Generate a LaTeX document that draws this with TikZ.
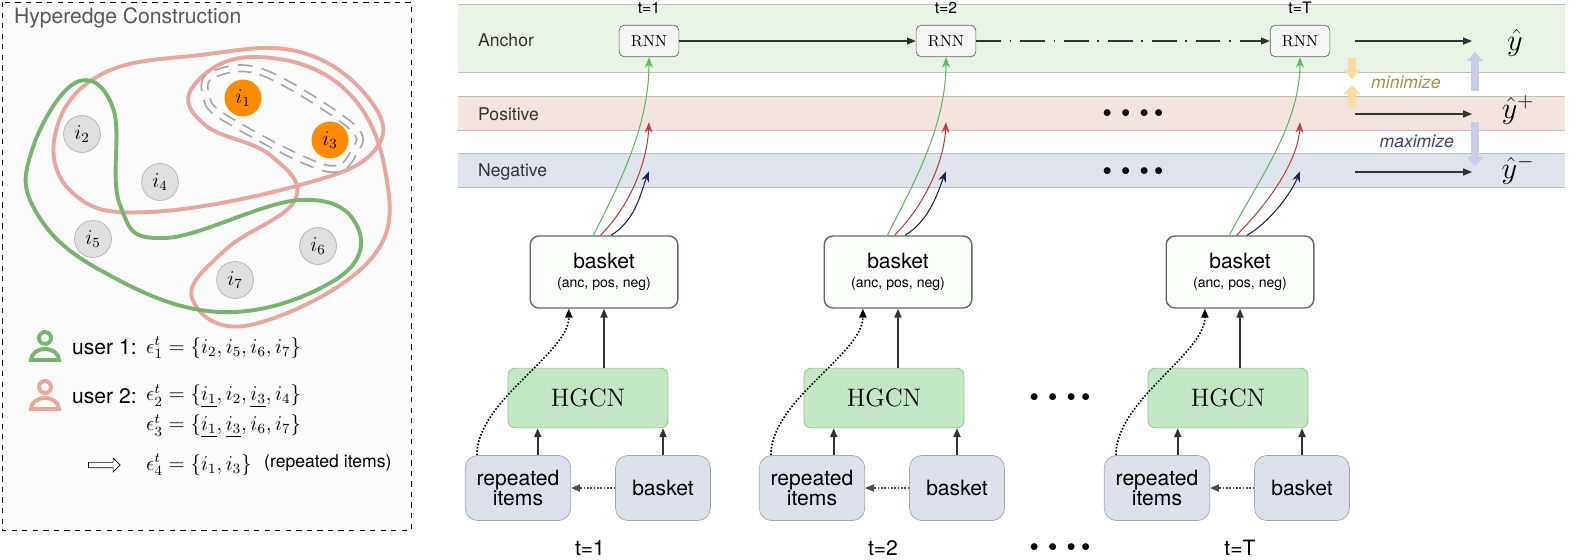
\documentclass[tikz,border=0pt]{standalone}
\usepackage{fontspec}
\setsansfont{TeX Gyre Heros}
\usetikzlibrary{arrows.meta,shapes.arrows}
\definecolor{gband}{HTML}{EAF4E6}
\definecolor{pband}{HTML}{F3E4DF}
\definecolor{bband}{HTML}{DEE3EC}
\definecolor{hgreen}{HTML}{C3E6C7}
\definecolor{hgreenb}{HTML}{8CC48F}
\definecolor{gedge}{HTML}{78B46E}
\definecolor{redge}{HTML}{E8A79D}
\definecolor{itemb}{HTML}{DCE0EA}
\definecolor{lav}{HTML}{C8CCE6}
\definecolor{yel}{HTML}{F8DCA0}
\tikzset{
 item/.style={circle,draw=gray!60,fill=gray!25,minimum size=21pt,inner sep=0pt,font=\large},
 oitem/.style={circle,fill=orange!90!yellow,minimum size=21pt,inner sep=0pt,font=\large},
 rnn/.style={draw=gray!80!black,fill=gray!8,rounded corners=3pt,minimum width=34pt,minimum height=18pt,font=\small},
 bask/.style={draw=gray!80!black,fill=green!2,rounded corners=5pt,minimum width=84pt,minimum height=41pt,align=center,font=\sffamily\large,line width=0.8pt},
 hgcn/.style={draw=hgreenb,fill=hgreen,rounded corners=4pt,minimum width=91pt,minimum height=34pt,font=\Large},
 inp/.style={draw=gray!70,fill=itemb,rounded corners=7pt,minimum height=37pt,align=center,font=\sffamily\large},
 arr/.style={-{Triangle[length=5pt,width=4pt]},gray!40!black,line width=0.9pt},
 lbl/.style={font=\sffamily,text=gray!40!black},
 fat/.style={-{Triangle[length=5pt,width=9pt]},line width=4.5pt},
}
\begin{document}
\begin{tikzpicture}[x=0.02cm,y=-0.02cm]
\useasboundingbox (0,0) rectangle (1578,559);
% left panel
\draw[dashed,fill=gray!3] (2,2) rectangle (411,530);
\node[anchor=west,font=\sffamily\large,text=gray!70!black] (title) at (8,18) {Hyperedge Construction};
\draw[redge,line width=2.2pt] plot[smooth cycle,tension=0.7] coordinates{(55,135)(100,75)(200,55)(300,52)(370,100)(375,150)(300,185)(150,212)(75,195)};
\draw[redge,line width=2.2pt] plot[smooth cycle,tension=0.7] coordinates{(192,88)(250,57)(340,85)(385,170)(370,260)(250,325)(192,298)(225,250)(295,200)(270,155)(205,125)};
\draw[gedge,line width=2.2pt] plot[smooth cycle,tension=0.7] coordinates{(32,150)(75,83)(113,108)(120,205)(165,238)(300,200)(358,228)(335,280)(220,312)(100,270)(35,210)};
\draw[gray!70,line width=1pt,double=white,double distance=2.6pt,dash pattern=on 8pt off 5pt] plot[smooth cycle,tension=0.6] coordinates{(212,75)(262,72)(350,125)(355,150)(325,168)(225,118)(206,95)};
\node[oitem] (i1) at (243,98) {$i_1$};
\node[oitem] (i3) at (330,140) {$i_3$};
\node[item] (i2) at (82,134) {$i_2$};
\node[item] (i4) at (160,182) {$i_4$};
\node[item] (i5) at (93,239) {$i_5$};
\node[item] (i6) at (318,246) {$i_6$};
\node[item] (i7) at (235,280) {$i_7$};
% users
\foreach \c/\y in {gedge/347,redge/396}{
 \draw[\c,line width=2.2pt] (45,\y-9) circle (6);
 \draw[\c,line width=2.2pt] (31,\y+13) -- (59,\y+13) arc(0:-180:14 and 11) -- cycle;
}
\node[anchor=west,font=\sffamily\large] (l1) at (66,347) {user 1:};
\node[anchor=west,font=\large] (e1) at (140,348) {$\epsilon_1^t=\{i_2,i_5,i_6,i_7\}$};
\node[anchor=west,font=\sffamily\large] (l2) at (66,396) {user 2:};
\node[anchor=west,font=\large] (e2) at (140,396) {$\epsilon_2^t=\{\underline{i_1},i_2,\underline{i_3},i_4\}$};
\node[anchor=west,font=\large] (e3) at (140,426) {$\epsilon_3^t=\{\underline{i_1},\underline{i_3},i_6,i_7\}$};
\node[draw,single arrow,minimum height=18pt,minimum width=8pt,single arrow head extend=2pt,inner sep=1pt] (ar) at (103,465) {};
\node[anchor=west,font=\large] (e4) at (140,465) {$\epsilon_4^t=\{i_1,i_3\}$};
\node[anchor=west,font=\sffamily] (rep) at (258,463) {(repeated items)};
% bands
\fill[gband] (458,4) rectangle (1565,72);
\fill[pband] (458,96) rectangle (1565,130);
\fill[bband] (458,153) rectangle (1565,187);
\foreach \y in {4,72,96,130,153,187} \draw[gray!50] (458,\y) -- (1565,\y);
\node[lbl,anchor=west] (anc) at (472,40) {Anchor};
\node[lbl,anchor=west] (pos) at (472,114) {Positive};
\node[lbl,anchor=west] (neg) at (472,172) {Negative};
\node[rnn] (r1) at (649,41) {RNN};
\node[rnn] (r2) at (946,41) {RNN};
\node[rnn] (r3) at (1300,41) {RNN};
\node[font=\sffamily\small] at (649,8) {t=1};
\node[font=\sffamily\small] at (946,8) {t=2};
\node[font=\sffamily\small] at (1300,8) {t=T};
\draw[arr,line width=0.6pt] (r1) -- (r2);
\draw[arr,line width=0.6pt,dash pattern=on 14pt off 5pt on 1pt off 5pt] (r2) -- (r3);
\node (d1) at (1133,114) {$\bullet\ \bullet\ \bullet\ \bullet$};
\node (d2) at (1133,172) {$\bullet\ \bullet\ \bullet\ \bullet$};
\coordinate (o1s) at (1355,41); \coordinate (o1e) at (1472,41);
\coordinate (o2s) at (1355,114); \coordinate (o2e) at (1472,114);
\coordinate (o3s) at (1355,172); \coordinate (o3e) at (1472,172);
\draw[arr,line width=0.6pt] (o1s) -- (o1e);
\draw[arr,line width=0.6pt] (o2s) -- (o2e);
\draw[arr,line width=0.6pt] (o3s) -- (o3e);
\node[font=\LARGE] (y1) at (1515,43) {$\hat y$};
\node[font=\LARGE] (y2) at (1518,110) {$\hat y^{+}$};
\node[font=\LARGE] (y3) at (1518,170) {$\hat y^{-}$};
\coordinate (m1a) at (1352,58); \coordinate (m1b) at (1352,79);
\coordinate (m2a) at (1352,107); \coordinate (m2b) at (1352,85);
\coordinate (x1a) at (1475,91); \coordinate (x1b) at (1475,52);
\coordinate (x2a) at (1475,122); \coordinate (x2b) at (1475,166);
\draw[fat,yel] (m1a) -- (m1b);
\draw[fat,yel] (m2a) -- (m2b);
\draw[fat,lav] (x1a) -- (x1b);
\draw[fat,lav] (x2a) -- (x2b);
\node[font=\sffamily\itshape,text=yellow!55!black,anchor=west] (mint) at (1365,82) {minimize};
\node[font=\sffamily\itshape,text=gray!70!blue!70!black,anchor=east] (maxt) at (1460,141) {maximize};
% columns
\foreach \i/\bx/\hx/\rx/\kx/\tx/\r in {1/604/588/518/663/590/r1,2/898/884/812/957/883/r2,3/1240/1228/1157/1302/1240/r3}{
 \node[bask] (b\i) at (\bx,272) {basket\\[-3pt]{\footnotesize (anc, pos, neg)}};
 \node[hgcn] (h\i) at (\hx,398) {HGCN};
 \node[inp,minimum width=60pt] (ri\i) at (\rx,488) {repeated\\[-3pt]items};
 \node[inp,minimum width=54pt] (bk\i) at (\kx,488) {basket};
 \node[font=\sffamily\large] (t\i) at (\tx,548) {t=\ifnum\i=3 T\else\i\fi};
 \coordinate (pp\i) at ([yshift=-37pt]\r.south);
 \coordinate (nn\i) at ([yshift=-65pt]\r.south);
 \draw[arr] (h\i.north -| b\i) -- (b\i.south);
 \draw[arr] (ri\i.north -| h\i.south west) ++(30,0) coordinate (a\i) -- (a\i |- h\i.south);
 \draw[arr] (bk\i.north) -- (bk\i.north |- h\i.south);
 \draw[arr,densely dotted,gray!60!black] (bk\i.west) -- (ri\i.east);
 \draw[-{Triangle[length=5pt,width=4pt]},densely dotted,line width=0.9pt] (ri\i.north west) ++(12,0) .. controls +(0,-55) and +(0,45) .. ([xshift=-20pt]b\i.south);
 \draw[-{Stealth[length=6pt]},green!40!gray!90,line width=0.6pt] ([xshift=-6pt]b\i.north) .. controls +(25,-50) and +(0,70) .. (\r.south);
 \draw[-{Stealth[length=6pt]},red!50!gray,line width=0.6pt] ([xshift=-2pt]b\i.north) .. controls +(30,-30) and +(-2,40) .. (pp\i);
 \draw[-{Stealth[length=6pt]},gray!30!black!80!blue,line width=0.6pt] ([xshift=4pt]b\i.north) .. controls +(25,-15) and +(-8,20) .. (nn\i);
}
\node (dh) at (1060,398) {$\bullet\ \bullet\ \bullet\ \bullet$};
\node (dt) at (1060,548) {$\bullet\ \bullet\ \bullet\ \bullet$};
\end{tikzpicture}
\end{document}
